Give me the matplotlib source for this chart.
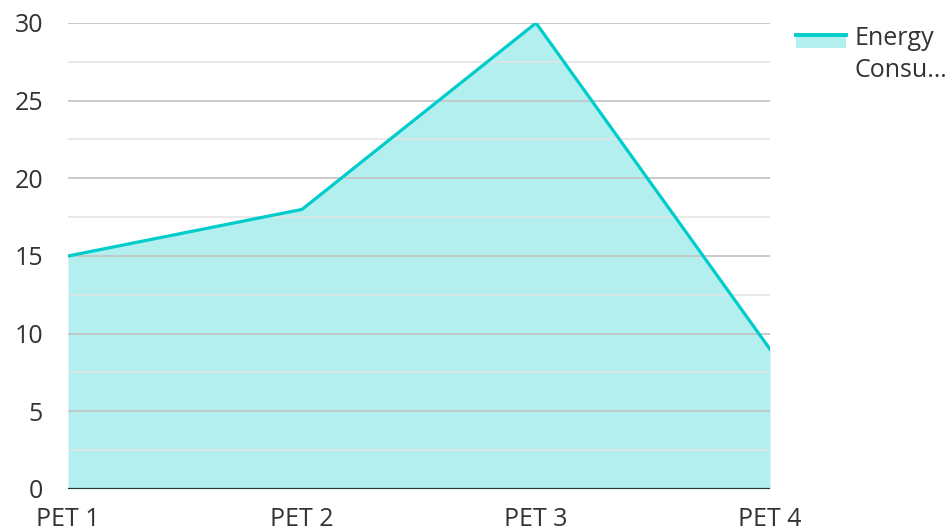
import matplotlib.pyplot as plt
from matplotlib.legend_handler import HandlerBase
from matplotlib.patches import Rectangle
from matplotlib.lines import Line2D

plt.rcParams['font.family'] = ['Open Sans', 'DejaVu Sans']

categories = ["PET 1", "PET 2", "PET 3", "PET 4"]
energy = [15, 18, 30, 9]
series_label = "Energy\nConsu…"
y_ticks = [0, 5, 10, 15, 20, 25, 30]

LINE_COLOR = "#00cccc"
FILL_COLOR = "#b2efee"


class AreaHandler(HandlerBase):
    # line on top edge of a filled box, like the legend in the reference
    def create_artists(self, legend, orig_handle, xdescent, ydescent,
                       width, height, fontsize, trans):
        top = height * 1.05 + 7.8
        box = Rectangle((-xdescent, top - 9.4), width, 9.4,
                        facecolor=FILL_COLOR, edgecolor="none", transform=trans)
        line = Line2D([-xdescent, -xdescent + width], [top, top],
                      color=LINE_COLOR, lw=2.8, transform=trans)
        return [box, line]


fig = plt.figure(figsize=(9.49, 5.31), dpi=100)
ax = fig.add_axes([0.0717, 0.0791, 0.7397, 0.8776])

x = list(range(len(categories)))
ax.fill_between(x, energy, 0, color=FILL_COLOR, lw=0, zorder=1)
line, = ax.plot(x, energy, color=LINE_COLOR, lw=2.3, zorder=3,
                solid_joinstyle="miter", label=series_label)

# grid: major every 5, minor every 2.5
for v in y_ticks[1:]:
    ax.axhline(v, color="#c4c4c4", lw=1.4, zorder=2, alpha=0.9)
for v in [2.5, 7.5, 12.5, 17.5, 22.5, 27.5]:
    ax.axhline(v, color="#e4e4e4", lw=1.4, zorder=2, alpha=0.8)
ax.axhline(0, color="#333333", lw=1.6, zorder=4)

ax.set_xlim(0, len(categories) - 1)
ax.set_ylim(0, 30)
ax.set_yticks(y_ticks)
ax.set_xticks(x)
ax.set_xticklabels(categories)
for s in ax.spines.values():
    s.set_visible(False)
ax.tick_params(axis="both", length=0, labelsize=18, colors="#333333")
ax.tick_params(axis="y", pad=18)
ax.tick_params(axis="x", pad=13)

leg = ax.legend(handles=[line], labels=[series_label], handler_map={line: AreaHandler()},
                loc="upper left", bbox_to_anchor=(1.0225, 1.015), borderaxespad=0,
                frameon=False, fontsize=18, handlelength=2.0, handletextpad=0.35,
                labelcolor="#333333")
leg.get_texts()[0].set_linespacing(1.35)

fig.savefig("out.png", dpi=100)
